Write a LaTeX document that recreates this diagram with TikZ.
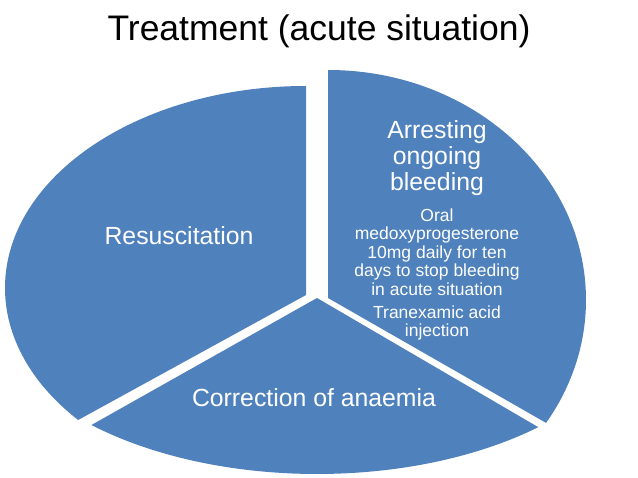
\documentclass[tikz,border=0pt]{standalone}
\usepackage{fontspec}
\usetikzlibrary{calc}
\setmainfont{Liberation Sans}
\definecolor{segblue}{RGB}{79,129,189}
\begin{document}
\begin{tikzpicture}[x=1pt,y=-1pt,
  seg/.style={fill=segblue,draw=none},
  lbl/.style={text=white,align=center,inner sep=0pt},
  big/.style={lbl,font=\fontsize{24.8}{26}\selectfont},
  small/.style={lbl,font=\fontsize{17.5}{18.6}\selectfont}]
\useasboundingbox (0,0) rectangle (638,478);
\fill[white] (0,0) rectangle (638,478);
% left sector
\path[seg] (306,295) -- (306,86) arc[start angle=-90,end angle=-220.8,x radius=301,y radius=202] -- cycle;
% right sector
\path[seg] (328,298) -- (328,70) arc[start angle=-90,end angle=32.3,x radius=258,y radius=230] -- cycle;
% bottom sector
\path[seg] (317,298) -- ($(317,290)+(132.8:332 and 184)$) arc[start angle=132.8,end angle=48.2,x radius=332,y radius=184] -- cycle;
\node[font=\fontsize{35.5}{38}\selectfont] (title) at (319,31) {Treatment (acute situation)};
\node[big] (res) at (179,236) {Resuscitation};
\node[big] (arr) at (437,158) {Arresting\\ongoing\\bleeding};
\node[small] (oral) at (437,252) {Oral\\medoxyprogesterone\\10mg daily for ten\\days to stop bleeding\\in acute situation};
\node[small] (tran) at (437,323) {Tranexamic acid\\injection};
\node[big] (cor) at (314,398) {Correction of anaemia};
\end{tikzpicture}
\end{document}
